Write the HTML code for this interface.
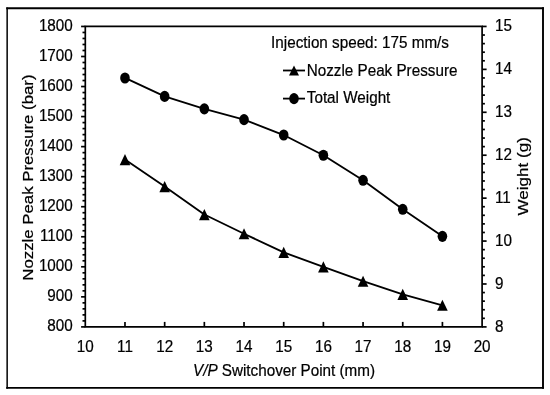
<!DOCTYPE html>
<html><head><meta charset="utf-8"><title>chart</title>
<style>
html,body{margin:0;padding:0;background:#fff;}
svg{display:block;}
text{font-family:"Liberation Sans",Arial,sans-serif;font-size:15.25px;fill:#000;stroke:#000;stroke-width:0.2px;}
</style></head><body>
<svg width="550" height="395" viewBox="0 0 550 395">
<rect x="0" y="0" width="550" height="395" fill="#fff"/>
<g stroke="#000" fill="none" stroke-linecap="square">
<path d="M7.15 8.25 V387.9" stroke-width="1.5"/>
<path d="M7.15 8.25 H543" stroke-width="1.9"/>
<path d="M543 8.25 V387.9" stroke-width="1.9"/>
<path d="M7.15 387.9 H543" stroke-width="1.9"/>
</g>

<g stroke="#000" stroke-width="1.7" fill="none">
<path d="M85.3 26.45 H482.1 V326.9 H85.3 Z"/>
<path d="M81.10 326.90 H85.3"/>
<path d="M82.50 320.89 H85.3"/>
<path d="M82.50 314.88 H85.3"/>
<path d="M82.50 308.87 H85.3"/>
<path d="M82.50 302.86 H85.3"/>
<path d="M81.10 296.85 H85.3"/>
<path d="M82.50 290.85 H85.3"/>
<path d="M82.50 284.84 H85.3"/>
<path d="M82.50 278.83 H85.3"/>
<path d="M82.50 272.82 H85.3"/>
<path d="M81.10 266.81 H85.3"/>
<path d="M82.50 260.80 H85.3"/>
<path d="M82.50 254.79 H85.3"/>
<path d="M82.50 248.78 H85.3"/>
<path d="M82.50 242.77 H85.3"/>
<path d="M81.10 236.76 H85.3"/>
<path d="M82.50 230.76 H85.3"/>
<path d="M82.50 224.75 H85.3"/>
<path d="M82.50 218.74 H85.3"/>
<path d="M82.50 212.73 H85.3"/>
<path d="M81.10 206.72 H85.3"/>
<path d="M82.50 200.71 H85.3"/>
<path d="M82.50 194.70 H85.3"/>
<path d="M82.50 188.69 H85.3"/>
<path d="M82.50 182.68 H85.3"/>
<path d="M81.10 176.67 H85.3"/>
<path d="M82.50 170.67 H85.3"/>
<path d="M82.50 164.66 H85.3"/>
<path d="M82.50 158.65 H85.3"/>
<path d="M82.50 152.64 H85.3"/>
<path d="M81.10 146.63 H85.3"/>
<path d="M82.50 140.62 H85.3"/>
<path d="M82.50 134.61 H85.3"/>
<path d="M82.50 128.60 H85.3"/>
<path d="M82.50 122.59 H85.3"/>
<path d="M81.10 116.58 H85.3"/>
<path d="M82.50 110.58 H85.3"/>
<path d="M82.50 104.57 H85.3"/>
<path d="M82.50 98.56 H85.3"/>
<path d="M82.50 92.55 H85.3"/>
<path d="M81.10 86.54 H85.3"/>
<path d="M82.50 80.53 H85.3"/>
<path d="M82.50 74.52 H85.3"/>
<path d="M82.50 68.51 H85.3"/>
<path d="M82.50 62.50 H85.3"/>
<path d="M81.10 56.50 H85.3"/>
<path d="M82.50 50.49 H85.3"/>
<path d="M82.50 44.48 H85.3"/>
<path d="M82.50 38.47 H85.3"/>
<path d="M82.50 32.46 H85.3"/>
<path d="M81.10 26.45 H85.3"/>
<path d="M482.1 326.90 H486.60"/>
<path d="M482.1 318.32 H484.90"/>
<path d="M482.1 309.73 H484.90"/>
<path d="M482.1 301.15 H484.90"/>
<path d="M482.1 292.56 H484.90"/>
<path d="M482.1 283.98 H486.60"/>
<path d="M482.1 275.39 H484.90"/>
<path d="M482.1 266.81 H484.90"/>
<path d="M482.1 258.23 H484.90"/>
<path d="M482.1 249.64 H484.90"/>
<path d="M482.1 241.06 H486.60"/>
<path d="M482.1 232.47 H484.90"/>
<path d="M482.1 223.89 H484.90"/>
<path d="M482.1 215.30 H484.90"/>
<path d="M482.1 206.72 H484.90"/>
<path d="M482.1 198.14 H486.60"/>
<path d="M482.1 189.55 H484.90"/>
<path d="M482.1 180.97 H484.90"/>
<path d="M482.1 172.38 H484.90"/>
<path d="M482.1 163.80 H484.90"/>
<path d="M482.1 155.21 H486.60"/>
<path d="M482.1 146.63 H484.90"/>
<path d="M482.1 138.05 H484.90"/>
<path d="M482.1 129.46 H484.90"/>
<path d="M482.1 120.88 H484.90"/>
<path d="M482.1 112.29 H486.60"/>
<path d="M482.1 103.71 H484.90"/>
<path d="M482.1 95.12 H484.90"/>
<path d="M482.1 86.54 H484.90"/>
<path d="M482.1 77.96 H484.90"/>
<path d="M482.1 69.37 H486.60"/>
<path d="M482.1 60.79 H484.90"/>
<path d="M482.1 52.20 H484.90"/>
<path d="M482.1 43.62 H484.90"/>
<path d="M482.1 35.03 H484.90"/>
<path d="M482.1 26.45 H486.60"/>
<path d="M124.98 326.9 V321.90"/>
<path d="M164.66 326.9 V321.90"/>
<path d="M204.34 326.9 V321.90"/>
<path d="M244.02 326.9 V321.90"/>
<path d="M283.70 326.9 V321.90"/>
<path d="M323.38 326.9 V321.90"/>
<path d="M363.06 326.9 V321.90"/>
<path d="M402.74 326.9 V321.90"/>
<path d="M442.42 326.9 V321.90"/>
</g>
<text transform="translate(72.80 331.00) scale(1 1.1)" text-anchor="end" font-size="15">800</text>
<text transform="translate(72.80 300.95) scale(1 1.1)" text-anchor="end" font-size="15">900</text>
<text transform="translate(72.80 270.91) scale(1 1.1)" text-anchor="end" font-size="15">1000</text>
<text transform="translate(72.80 240.86) scale(1 1.1)" text-anchor="end" font-size="15">1100</text>
<text transform="translate(72.80 210.82) scale(1 1.1)" text-anchor="end" font-size="15">1200</text>
<text transform="translate(72.80 180.77) scale(1 1.1)" text-anchor="end" font-size="15">1300</text>
<text transform="translate(72.80 150.73) scale(1 1.1)" text-anchor="end" font-size="15">1400</text>
<text transform="translate(72.80 120.68) scale(1 1.1)" text-anchor="end" font-size="15">1500</text>
<text transform="translate(72.80 90.64) scale(1 1.1)" text-anchor="end" font-size="15">1600</text>
<text transform="translate(72.80 60.60) scale(1 1.1)" text-anchor="end" font-size="15">1700</text>
<text transform="translate(72.80 30.55) scale(1 1.1)" text-anchor="end" font-size="15">1800</text>
<text transform="translate(495.00 331.70) scale(1 1.1)" text-anchor="start" font-size="15">8</text>
<text transform="translate(495.00 288.78) scale(1 1.1)" text-anchor="start" font-size="15">9</text>
<text transform="translate(495.00 245.86) scale(1 1.1)" text-anchor="start" font-size="15">10</text>
<text transform="translate(495.00 202.94) scale(1 1.1)" text-anchor="start" font-size="15">11</text>
<text transform="translate(495.00 160.01) scale(1 1.1)" text-anchor="start" font-size="15">12</text>
<text transform="translate(495.00 117.09) scale(1 1.1)" text-anchor="start" font-size="15">13</text>
<text transform="translate(495.00 74.17) scale(1 1.1)" text-anchor="start" font-size="15">14</text>
<text transform="translate(495.00 31.25) scale(1 1.1)" text-anchor="start" font-size="15">15</text>
<text transform="translate(85.30 351.80) scale(1 1.1)" text-anchor="middle" font-size="15">10</text>
<text transform="translate(124.98 351.80) scale(1 1.1)" text-anchor="middle" font-size="15">11</text>
<text transform="translate(164.66 351.80) scale(1 1.1)" text-anchor="middle" font-size="15">12</text>
<text transform="translate(204.34 351.80) scale(1 1.1)" text-anchor="middle" font-size="15">13</text>
<text transform="translate(244.02 351.80) scale(1 1.1)" text-anchor="middle" font-size="15">14</text>
<text transform="translate(283.70 351.80) scale(1 1.1)" text-anchor="middle" font-size="15">15</text>
<text transform="translate(323.38 351.80) scale(1 1.1)" text-anchor="middle" font-size="15">16</text>
<text transform="translate(363.06 351.80) scale(1 1.1)" text-anchor="middle" font-size="15">17</text>
<text transform="translate(402.74 351.80) scale(1 1.1)" text-anchor="middle" font-size="15">18</text>
<text transform="translate(442.42 351.80) scale(1 1.1)" text-anchor="middle" font-size="15">19</text>
<text transform="translate(482.10 351.80) scale(1 1.1)" text-anchor="middle" font-size="15">20</text>
<text transform="translate(33.00 177.60) rotate(-90) scale(1.1022 1)" text-anchor="middle">Nozzle Peak Pressure (bar)</text>
<text transform="translate(528.00 176.30) rotate(-90) scale(1.1165 1)" text-anchor="middle">Weight (g)</text>
<text transform="translate(284.00 375.50) scale(1 1.1)" text-anchor="middle"><tspan font-style="italic">V/P</tspan> Switchover Point (mm)</text>
<text transform="translate(271.10 48.20) scale(1 1.1)" text-anchor="start">Injection speed: 175 mm/s</text>
<text transform="translate(306.70 75.50) scale(1 1.1)" text-anchor="start">Nozzle Peak Pressure</text>
<text transform="translate(306.80 102.80) scale(1 1.1)" text-anchor="start">Total Weight</text>
<path d="M283 70.5 H305" stroke="#000" stroke-width="1.8"/>
<path d="M283 98.6 H305" stroke="#000" stroke-width="1.8"/>
<path d="M294.00 65.60 L299.00 75.40 L289.00 75.40 Z" fill="#000"/>
<ellipse cx="294.00" cy="98.60" rx="4.8" ry="5.55" fill="#000"/>
<polyline points="124.98,159.55 164.66,186.59 204.34,214.53 244.02,233.76 283.70,252.39 323.38,266.81 363.06,281.23 402.74,294.45 442.42,305.27" fill="none" stroke="#000" stroke-width="1.85" stroke-linejoin="round"/>
<polyline points="124.98,77.96 164.66,96.41 204.34,108.86 244.02,119.59 283.70,135.04 323.38,155.21 363.06,180.32 402.74,209.30 442.42,236.34" fill="none" stroke="#000" stroke-width="1.85" stroke-linejoin="round"/>
<path d="M124.98 153.95 L130.28 165.15 L119.68 165.15 Z" fill="#000"/>
<path d="M164.66 180.99 L169.96 192.19 L159.36 192.19 Z" fill="#000"/>
<path d="M204.34 208.93 L209.64 220.13 L199.04 220.13 Z" fill="#000"/>
<path d="M244.02 228.16 L249.32 239.36 L238.72 239.36 Z" fill="#000"/>
<path d="M283.70 246.79 L289.00 257.99 L278.40 257.99 Z" fill="#000"/>
<path d="M323.38 261.21 L328.68 272.41 L318.08 272.41 Z" fill="#000"/>
<path d="M363.06 275.63 L368.36 286.83 L357.76 286.83 Z" fill="#000"/>
<path d="M402.74 288.85 L408.04 300.05 L397.44 300.05 Z" fill="#000"/>
<path d="M442.42 299.67 L447.72 310.87 L437.12 310.87 Z" fill="#000"/>
<ellipse cx="124.98" cy="77.96" rx="4.8" ry="5.55" fill="#000"/>
<ellipse cx="164.66" cy="96.41" rx="4.8" ry="5.55" fill="#000"/>
<ellipse cx="204.34" cy="108.86" rx="4.8" ry="5.55" fill="#000"/>
<ellipse cx="244.02" cy="119.59" rx="4.8" ry="5.55" fill="#000"/>
<ellipse cx="283.70" cy="135.04" rx="4.8" ry="5.55" fill="#000"/>
<ellipse cx="323.38" cy="155.21" rx="4.8" ry="5.55" fill="#000"/>
<ellipse cx="363.06" cy="180.32" rx="4.8" ry="5.55" fill="#000"/>
<ellipse cx="402.74" cy="209.30" rx="4.8" ry="5.55" fill="#000"/>
<ellipse cx="442.42" cy="236.34" rx="4.8" ry="5.55" fill="#000"/>
</svg></body></html>
